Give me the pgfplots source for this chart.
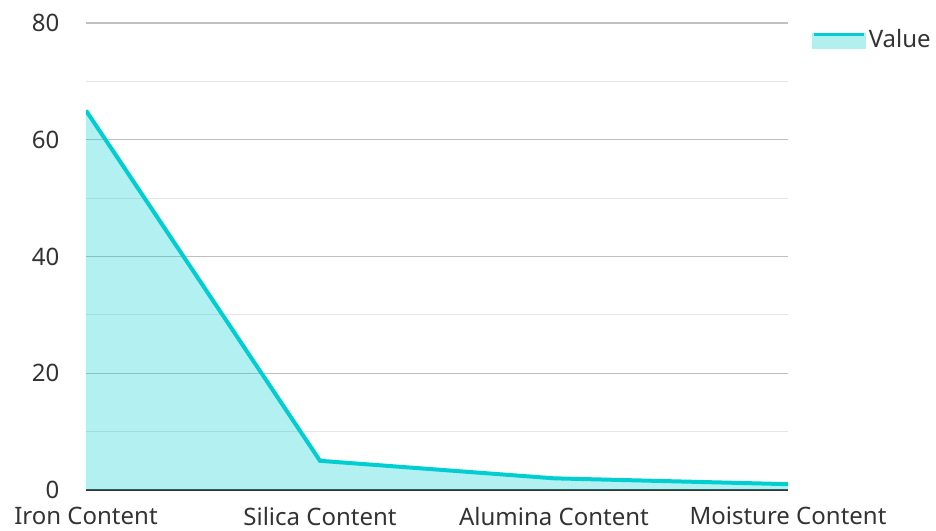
\documentclass[border=0pt]{standalone}
\usepackage{pgfplots}
\pgfplotsset{compat=1.18}
\usepackage{fontspec}
\setmainfont{Noto Sans}
\definecolor{lineC}{RGB}{0,206,209}
\definecolor{fillC}{RGB}{178,239,239}
\definecolor{txtC}{RGB}{51,51,51}
\begin{document}
\begin{tikzpicture}
\begin{axis}[name=ax, at={(0,0)}, anchor=south west,
 scale only axis, width=526.5pt, height=350.25pt,
 xmin=0, xmax=3, ymin=0, ymax=80,
 axis x line*=bottom, axis y line*=left,
 x axis line style={draw=txtC, line width=1.5pt, -},
 y axis line style={draw=none},
 xtick={0,1,2,3},
 xticklabels={Iron Content, Silica Content, Alumina Content, Moisture Content},
 ytick={0,20,40,60,80}, minor ytick={10,30,50,70},
 ymajorgrids, yminorgrids,
 major grid style={draw=black!25, line width=0.9pt},
 minor grid style={draw=black!10, line width=0.9pt},
 major tick length=0pt, minor tick length=0pt,
 tick style={draw=none},
 /pgf/number format/assume math mode=true,
 ticklabel style={font=\fontsize{18}{20}\selectfont, text=txtC},
 yticklabel style={anchor=east, xshift=-16.5pt},
 xticklabel style={anchor=north, inner sep=0pt, yshift=-12.5pt},
 legend style={at={(1.034,0.965)}, anchor=west, draw=none, fill=none, inner sep=0pt,
   font=\fontsize{18}{20}\selectfont, text=txtC, legend cell align=left},
 legend image code/.code={
   \fill[fillC] (0pt,-6pt) rectangle (37.5pt,3.5pt);
   \draw[lineC, line width=2.5pt] (0pt,3.5pt) -- (37.5pt,3.5pt);
 },
]
\addplot[draw=none, fill=lineC, fill opacity=0.3, forget plot] coordinates {(0,65) (1,5) (2,2) (3,1)} \closedcycle;
\addplot[draw=lineC, line width=3pt, mark=none] coordinates {(0,65) (1,5) (2,2) (3,1)};
\addlegendentry{Value}
\end{axis}
\pgfresetboundingbox
\path ([xshift=-64.5pt,yshift=-30.75pt]ax.south west) rectangle ([xshift=637.5pt,yshift=367.5pt]ax.south west);
\end{tikzpicture}
\end{document}
